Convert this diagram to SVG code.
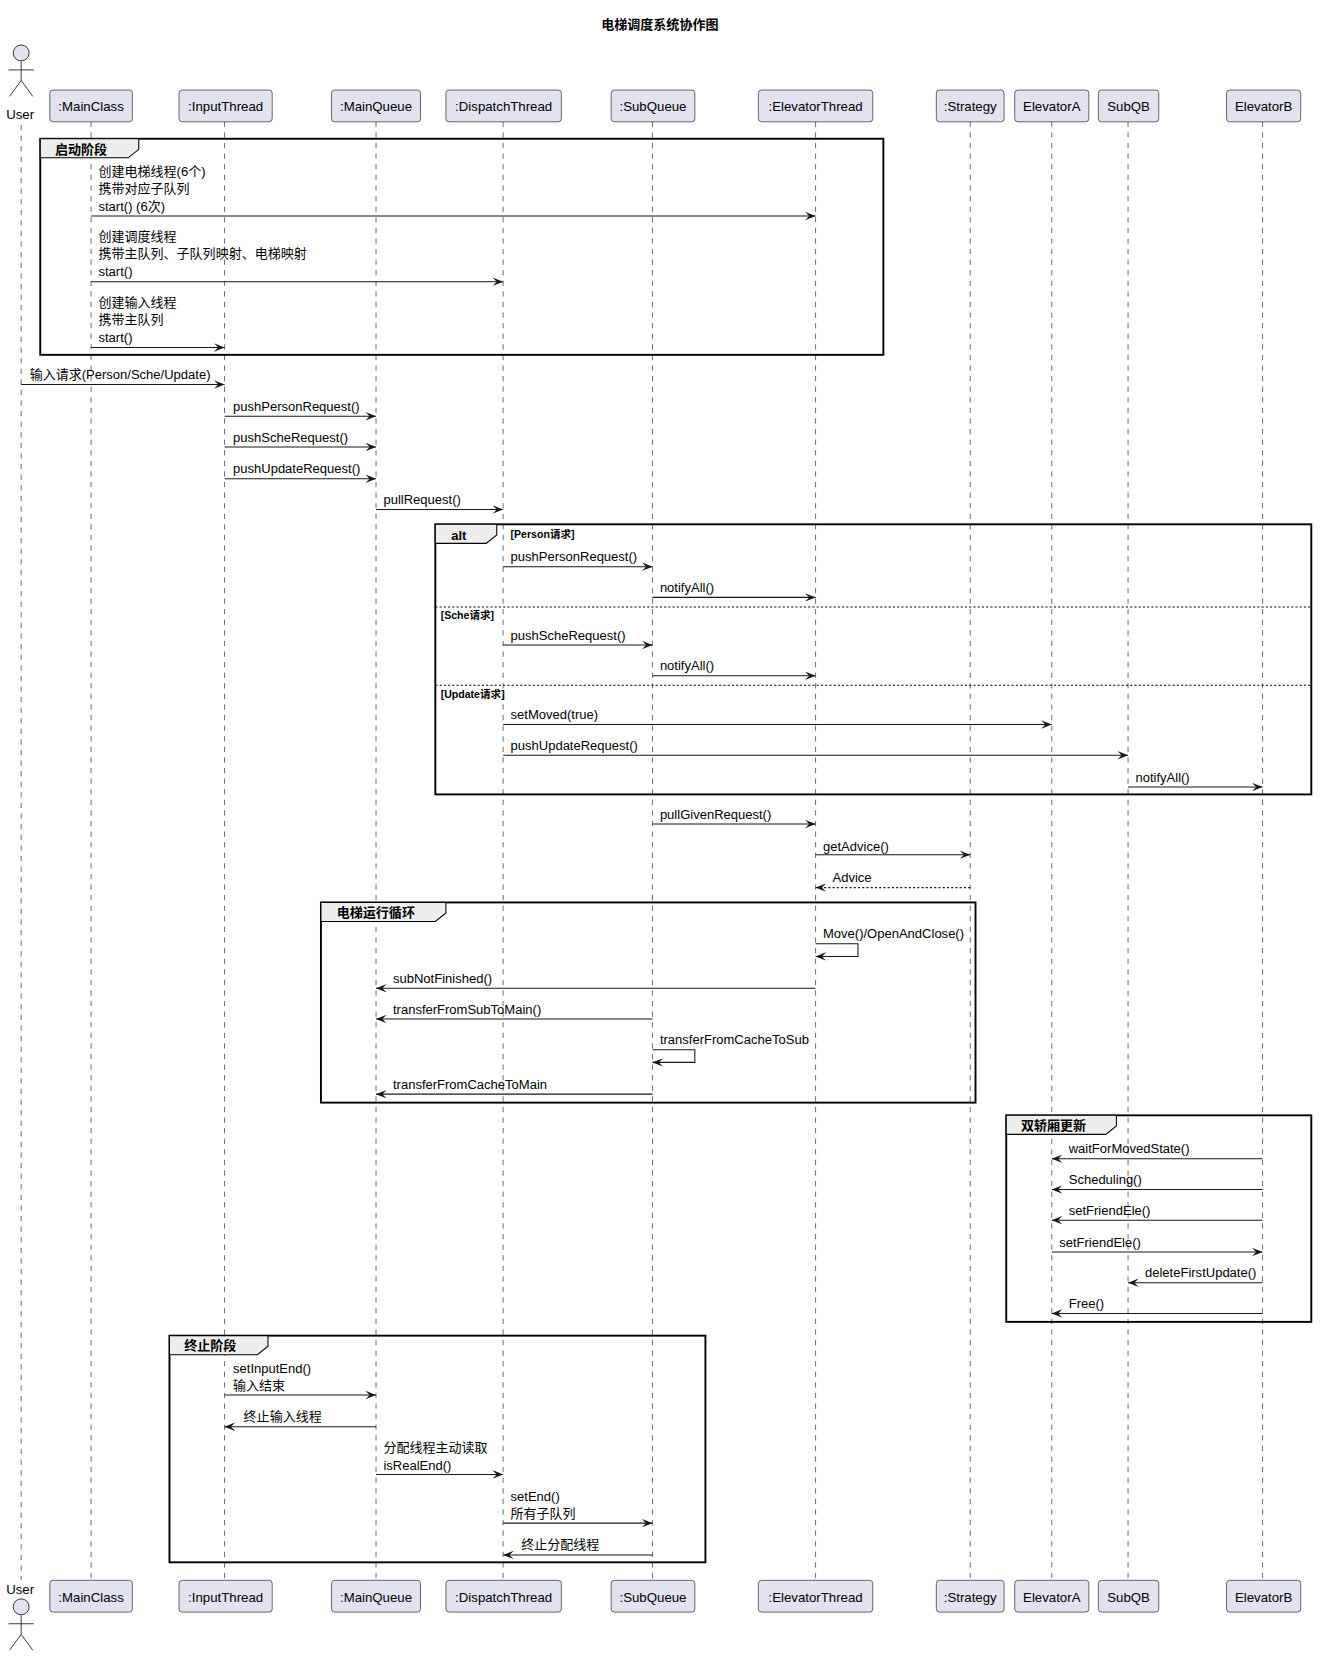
<svg xmlns="http://www.w3.org/2000/svg" width="1324" height="1670" viewBox="0 0 1324 1670">
<style>
text{font-family:"Liberation Sans","Noto Sans CJK SC",sans-serif;font-size:12.3px;fill:#000}
.t{font-size:12.5px}
.b{font-weight:bold}
.g{font-size:10px;font-weight:bold}
.box{fill:#E2E2F0;stroke:#181818;stroke-width:0.6}
.ll{stroke:#181818;stroke-width:0.6;stroke-dasharray:5,5}
.m{stroke:#181818;stroke-width:1;fill:none;marker-end:url(#a)}
.d{stroke-dasharray:2,2}
.fr{fill:none;stroke:#000;stroke-width:1.8}
.tab{fill:#EEEEEE;stroke:#000;stroke-width:1}
.sep{stroke:#000;stroke-width:1;stroke-dasharray:2,2}
</style>
<defs><marker id="a" markerWidth="12" markerHeight="10" refX="10" refY="4" orient="auto" markerUnits="userSpaceOnUse"><path d="M0,0 L10,4 L0,8 L4,4 Z" fill="#181818"/></marker></defs>
<rect width="1324" height="1670" fill="#fff"/>
<g transform="scale(1.0592)">
<text x="623" y="27" text-anchor="middle" class="b">电梯调度系统协作图</text>
<g id="lifelines">
<line class="ll" x1="20" y1="118" x2="20" y2="1492"/><line class="ll" x1="86" y1="115" x2="86" y2="1492"/><line class="ll" x1="212" y1="115" x2="212" y2="1492"/><line class="ll" x1="355" y1="115" x2="355" y2="1492"/><line class="ll" x1="475" y1="115" x2="475" y2="1492"/><line class="ll" x1="616" y1="115" x2="616" y2="1492"/><line class="ll" x1="770" y1="115" x2="770" y2="1492"/><line class="ll" x1="916" y1="115" x2="916" y2="1492"/><line class="ll" x1="993" y1="115" x2="993" y2="1492"/><line class="ll" x1="1065" y1="115" x2="1065" y2="1492"/><line class="ll" x1="1192" y1="115" x2="1192" y2="1492"/>
</g>
<g id="User"><g fill="#E2E2F0" stroke="#181818" stroke-width="0.8"><circle cx="20" cy="50" r="7.5"/><path d="M20,58 V76 M8,66 H32 M9,91 L20,76 L31,91" fill="none"/><circle cx="20" cy="1517" r="7.5"/><path d="M20,1525 V1543 M8,1533 H32 M9,1558 L20,1543 L31,1558" fill="none"/></g><text x="19" y="112" text-anchor="middle" class="t">User</text><text x="19" y="1505" text-anchor="middle" class="t">User</text></g>
<g id="MainClass"><rect class="box" x="47" y="85" width="78" height="30" rx="3"/><text x="86" y="105" text-anchor="middle" class="t">:MainClass</text><rect class="box" x="47" y="1492" width="78" height="30" rx="3"/><text x="86" y="1512" text-anchor="middle" class="t">:MainClass</text></g>
<g id="InputThread"><rect class="box" x="169" y="85" width="88" height="30" rx="3"/><text x="213" y="105" text-anchor="middle" class="t">:InputThread</text><rect class="box" x="169" y="1492" width="88" height="30" rx="3"/><text x="213" y="1512" text-anchor="middle" class="t">:InputThread</text></g>
<g id="MainQueue"><rect class="box" x="313" y="85" width="84" height="30" rx="3"/><text x="355" y="105" text-anchor="middle" class="t">:MainQueue</text><rect class="box" x="313" y="1492" width="84" height="30" rx="3"/><text x="355" y="1512" text-anchor="middle" class="t">:MainQueue</text></g>
<g id="DispatchThread"><rect class="box" x="421" y="85" width="109" height="30" rx="3"/><text x="475.5" y="105" text-anchor="middle" class="t">:DispatchThread</text><rect class="box" x="421" y="1492" width="109" height="30" rx="3"/><text x="475.5" y="1512" text-anchor="middle" class="t">:DispatchThread</text></g>
<g id="SubQueue"><rect class="box" x="577" y="85" width="79" height="30" rx="3"/><text x="616.5" y="105" text-anchor="middle" class="t">:SubQueue</text><rect class="box" x="577" y="1492" width="79" height="30" rx="3"/><text x="616.5" y="1512" text-anchor="middle" class="t">:SubQueue</text></g>
<g id="ElevatorThread"><rect class="box" x="716" y="85" width="108" height="30" rx="3"/><text x="770" y="105" text-anchor="middle" class="t">:ElevatorThread</text><rect class="box" x="716" y="1492" width="108" height="30" rx="3"/><text x="770" y="1512" text-anchor="middle" class="t">:ElevatorThread</text></g>
<g id="Strategy"><rect class="box" x="884" y="85" width="64" height="30" rx="3"/><text x="916" y="105" text-anchor="middle" class="t">:Strategy</text><rect class="box" x="884" y="1492" width="64" height="30" rx="3"/><text x="916" y="1512" text-anchor="middle" class="t">:Strategy</text></g>
<g id="ElevatorA"><rect class="box" x="958" y="85" width="70" height="30" rx="3"/><text x="993" y="105" text-anchor="middle" class="t">ElevatorA</text><rect class="box" x="958" y="1492" width="70" height="30" rx="3"/><text x="993" y="1512" text-anchor="middle" class="t">ElevatorA</text></g>
<g id="SubQB"><rect class="box" x="1037" y="85" width="57" height="30" rx="3"/><text x="1065.5" y="105" text-anchor="middle" class="t">SubQB</text><rect class="box" x="1037" y="1492" width="57" height="30" rx="3"/><text x="1065.5" y="1512" text-anchor="middle" class="t">SubQB</text></g>
<g id="ElevatorB"><rect class="box" x="1158" y="85" width="70" height="30" rx="3"/><text x="1193" y="105" text-anchor="middle" class="t">ElevatorB</text><rect class="box" x="1158" y="1492" width="70" height="30" rx="3"/><text x="1193" y="1512" text-anchor="middle" class="t">ElevatorB</text></g>
<g id="frames">
<rect class="fr" x="38" y="131" width="796" height="204"/><path class="tab" d="M38,131 H131 V141 L121,149 H38 Z"/><text x="52" y="145" class="b">启动阶段</text>
<rect class="fr" x="411" y="495" width="827" height="255"/><path class="tab" d="M411,495 H469 V505 L459,513 H411 Z"/><text x="426" y="510" class="b">alt</text>
<text x="482" y="508" class="g">[Person请求]</text>
<line class="sep" x1="411" y1="573" x2="1238" y2="573"/><text x="416" y="584" class="g">[Sche请求]</text>
<line class="sep" x1="411" y1="647" x2="1238" y2="647"/><text x="416" y="659" class="g">[Update请求]</text>
<rect class="fr" x="303" y="852" width="618" height="189"/><path class="tab" d="M303,852 H421 V862 L411,870 H303 Z"/><text x="318" y="866" class="b">电梯运行循环</text>
<rect class="fr" x="950" y="1053" width="288" height="195"/><path class="tab" d="M950,1053 H1054 V1063 L1044,1071 H950 Z"/><text x="964" y="1067" class="b">双轿厢更新</text>
<rect class="fr" x="160" y="1261" width="506" height="214"/><path class="tab" d="M160,1261 H253 V1271 L243,1279 H160 Z"/><text x="174" y="1275" class="b">终止阶段</text>
</g>
<g id="connectors">
<text x="93" y="166">创建电梯线程(6个)</text><text x="93" y="182">携带对应子队列</text><text x="93" y="199">start() (6次)</text><line class="m" x1="86" y1="204" x2="770" y2="204"/>
<text x="93" y="228">创建调度线程</text><text x="93" y="244">携带主队列、子队列映射、电梯映射</text><text x="93" y="261">start()</text><line class="m" x1="86" y1="266" x2="475" y2="266"/>
<text x="93" y="290">创建输入线程</text><text x="93" y="306">携带主队列</text><text x="93" y="323">start()</text><line class="m" x1="86" y1="328" x2="212" y2="328"/>
<text x="28" y="358">输入请求(Person/Sche/Update)</text><line class="m" x1="20" y1="363" x2="212" y2="363"/>
<text x="220" y="388">pushPersonRequest()</text><line class="m" x1="212" y1="393" x2="355" y2="393"/>
<text x="220" y="417">pushScheRequest()</text><line class="m" x1="212" y1="422" x2="355" y2="422"/>
<text x="220" y="447">pushUpdateRequest()</text><line class="m" x1="212" y1="452" x2="355" y2="452"/>
<text x="362" y="476">pullRequest()</text><line class="m" x1="355" y1="481" x2="475" y2="481"/>
<text x="482" y="530">pushPersonRequest()</text><line class="m" x1="475" y1="535" x2="616" y2="535"/>
<text x="623" y="559">notifyAll()</text><line class="m" x1="616" y1="564" x2="770" y2="564"/>
<text x="482" y="604">pushScheRequest()</text><line class="m" x1="475" y1="609" x2="616" y2="609"/>
<text x="623" y="633">notifyAll()</text><line class="m" x1="616" y1="638" x2="770" y2="638"/>
<text x="482" y="679">setMoved(true)</text><line class="m" x1="475" y1="684" x2="993" y2="684"/>
<text x="482" y="708">pushUpdateRequest()</text><line class="m" x1="475" y1="713" x2="1065" y2="713"/>
<text x="1072" y="738">notifyAll()</text><line class="m" x1="1065" y1="743" x2="1192" y2="743"/>
<text x="623" y="773">pullGivenRequest()</text><line class="m" x1="616" y1="778" x2="770" y2="778"/>
<text x="777" y="803">getAdvice()</text><line class="m" x1="770" y1="807" x2="916" y2="807"/>
<text x="786" y="833">Advice</text><line class="m d" x1="916" y1="838" x2="770" y2="838"/>
<text x="777" y="886">Move()/OpenAndClose()</text><path class="m" d="M770,891 H810 V903 H770"/>
<text x="371" y="928">subNotFinished()</text><line class="m" x1="770" y1="933" x2="355" y2="933"/>
<text x="371" y="957">transferFromSubToMain()</text><line class="m" x1="616" y1="962" x2="355" y2="962"/>
<text x="623" y="986">transferFromCacheToSub</text><path class="m" d="M616,991 H656 V1003 H616"/>
<text x="371" y="1028">transferFromCacheToMain</text><line class="m" x1="616" y1="1033" x2="355" y2="1033"/>
<text x="1009" y="1089">waitForMovedState()</text><line class="m" x1="1192" y1="1094" x2="993" y2="1094"/>
<text x="1009" y="1118">Scheduling()</text><line class="m" x1="1192" y1="1123" x2="993" y2="1123"/>
<text x="1009" y="1147">setFriendEle()</text><line class="m" x1="1192" y1="1152" x2="993" y2="1152"/>
<text x="1000" y="1177">setFriendEle()</text><line class="m" x1="993" y1="1182" x2="1192" y2="1182"/>
<text x="1081" y="1206">deleteFirstUpdate()</text><line class="m" x1="1192" y1="1211" x2="1065" y2="1211"/>
<text x="1009" y="1235">Free()</text><line class="m" x1="1192" y1="1240" x2="993" y2="1240"/>
<text x="220" y="1296">setInputEnd()</text><text x="220" y="1312">输入结束</text><line class="m" x1="212" y1="1317" x2="355" y2="1317"/>
<text x="230" y="1342">终止输入线程</text><line class="m" x1="355" y1="1347" x2="212" y2="1347"/>
<text x="362" y="1371">分配线程主动读取</text><text x="362" y="1388">isRealEnd()</text><line class="m" x1="355" y1="1392" x2="475" y2="1392"/>
<text x="482" y="1417">setEnd()</text><text x="482" y="1433">所有子队列</text><line class="m" x1="475" y1="1438" x2="616" y2="1438"/>
<text x="492" y="1462">终止分配线程</text><line class="m" x1="616" y1="1468" x2="475" y2="1468"/>
</g>
</g>
</svg>
